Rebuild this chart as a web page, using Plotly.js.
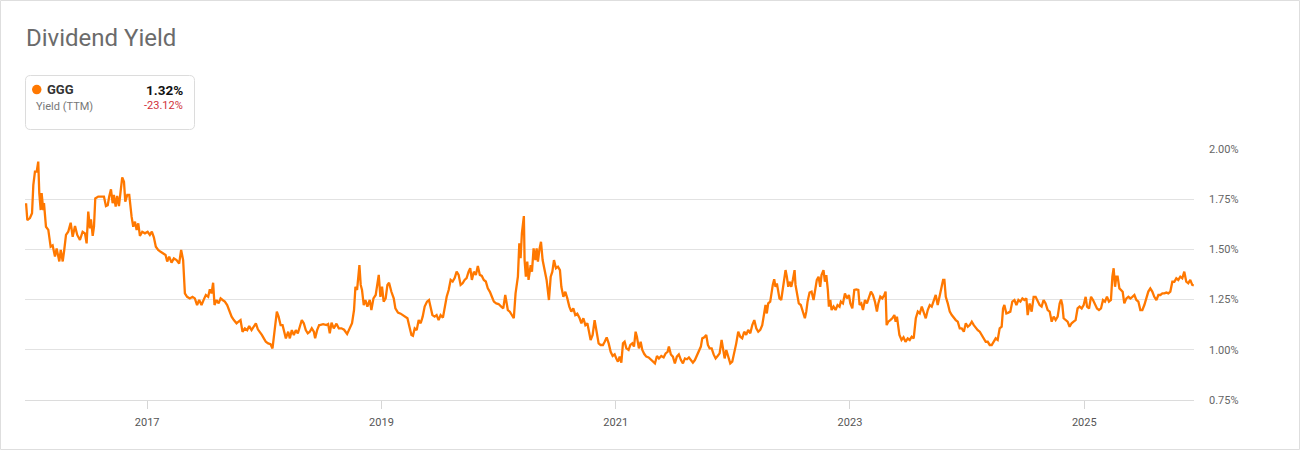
<!DOCTYPE html>
<html>
<head>
<meta charset="utf-8">
<script src="https://cdn.plot.ly/plotly-3.0.1.min.js"></script>
<style>
  html, body { margin: 0; padding: 0; background: #fff; }
  #chart { width: 1300px; height: 450px; }
</style>
</head>
<body>
<div id="chart"></div>
<script>
// ---- Data (decimal year, dividend yield in %) ----
const ticker = "GGG";
const seriesLabel = "Yield (TTM)";
const latestYield = "1.32%";
const yieldChange = "-23.12%";
const chartTitle = "Dividend Yield";

const xTickVals = [2017, 2019, 2021, 2023, 2025];
const xTickText = ["2017", "2019", "2021", "2023", "2025"];
const yTickVals = [0.75, 1.00, 1.25, 1.50, 1.75, 2.00];
const yTickText = ["0.75%", "1.00%", "1.25%", "1.50%", "1.75%", "2.00%"];

const dates = [
2015.966,2015.977,2015.999,2016.017,2016.028,2016.042,2016.057,2016.070,2016.079,2016.091,2016.099,2016.113,2016.119,2016.136,2016.156,2016.176,2016.193,2016.213,2016.227,2016.250,
2016.262,2016.279,2016.292,2016.307,2016.326,2016.347,2016.364,2016.384,2016.403,2016.426,2016.449,2016.469,2016.483,2016.497,2016.512,2016.520,2016.535,2016.546,2016.557,2016.582,
2016.611,2016.631,2016.648,2016.663,2016.676,2016.691,2016.705,2016.716,2016.731,2016.744,2016.759,2016.773,2016.787,2016.802,2016.813,2016.830,2016.847,2016.867,2016.881,2016.896,
2016.910,2016.924,2016.938,2016.958,2016.981,2017.004,2017.023,2017.040,2017.057,2017.074,2017.094,2017.115,2017.137,2017.157,2017.171,2017.188,2017.208,2017.228,2017.251,2017.273,
2017.290,2017.307,2017.322,2017.341,2017.364,2017.387,2017.407,2017.426,2017.444,2017.464,2017.484,2017.501,2017.521,2017.535,2017.550,2017.563,2017.575,2017.592,2017.610,2017.627,
2017.644,2017.663,2017.683,2017.700,2017.721,2017.740,2017.763,2017.780,2017.797,2017.814,2017.834,2017.854,2017.871,2017.891,2017.911,2017.928,2017.945,2017.962,2017.979,2017.996,
2018.013,2018.033,2018.053,2018.070,2018.081,2018.093,2018.107,2018.122,2018.139,2018.156,2018.169,2018.184,2018.204,2018.218,2018.235,2018.252,2018.269,2018.286,2018.303,2018.320,
2018.337,2018.354,2018.371,2018.388,2018.405,2018.423,2018.434,2018.451,2018.468,2018.474,2018.502,2018.531,2018.545,2018.559,2018.574,2018.593,2018.616,2018.636,2018.659,2018.681,
2018.707,2018.729,2018.749,2018.766,2018.778,2018.792,2018.800,2018.812,2018.823,2018.834,2018.849,2018.863,2018.880,2018.900,2018.914,2018.932,2018.951,2018.966,2018.977,2018.991,
2019.005,2019.019,2019.036,2019.051,2019.065,2019.085,2019.105,2019.119,2019.141,2019.164,2019.184,2019.204,2019.222,2019.239,2019.256,2019.269,2019.284,2019.301,2019.318,2019.335,
2019.352,2019.369,2019.389,2019.406,2019.420,2019.435,2019.454,2019.471,2019.488,2019.505,2019.525,2019.539,2019.557,2019.574,2019.591,2019.608,2019.625,2019.642,2019.659,2019.676,
2019.693,2019.710,2019.727,2019.744,2019.758,2019.772,2019.789,2019.806,2019.823,2019.840,2019.857,2019.874,2019.891,2019.908,2019.926,2019.943,2019.960,2019.980,2020.000,2020.023,
2020.040,2020.057,2020.068,2020.079,2020.096,2020.113,2020.130,2020.145,2020.156,2020.165,2020.177,2020.188,2020.199,2020.216,2020.222,2020.233,2020.245,2020.256,2020.274,2020.285,
2020.299,2020.314,2020.325,2020.336,2020.348,2020.362,2020.376,2020.393,2020.410,2020.430,2020.445,2020.459,2020.473,2020.490,2020.507,2020.524,2020.536,2020.553,2020.570,2020.587,
2020.604,2020.621,2020.638,2020.655,2020.672,2020.692,2020.707,2020.724,2020.741,2020.758,2020.772,2020.786,2020.803,2020.820,2020.837,2020.854,2020.871,2020.891,2020.906,2020.923,
2020.940,2020.957,2020.974,2020.991,2021.005,2021.019,2021.034,2021.048,2021.062,2021.076,2021.091,2021.110,2021.125,2021.142,2021.156,2021.170,2021.181,2021.198,2021.213,2021.227,
2021.244,2021.261,2021.281,2021.301,2021.318,2021.335,2021.352,2021.369,2021.389,2021.409,2021.426,2021.443,2021.454,2021.471,2021.488,2021.505,2021.522,2021.539,2021.557,2021.574,
2021.591,2021.608,2021.625,2021.642,2021.659,2021.676,2021.693,2021.710,2021.727,2021.739,2021.756,2021.773,2021.787,2021.802,2021.819,2021.836,2021.853,2021.870,2021.887,2021.904,
2021.915,2021.930,2021.944,2021.961,2021.978,2021.995,2022.012,2022.029,2022.046,2022.063,2022.080,2022.097,2022.114,2022.131,2022.149,2022.166,2022.183,2022.200,2022.217,2022.234,
2022.251,2022.268,2022.279,2022.290,2022.302,2022.319,2022.330,2022.341,2022.353,2022.364,2022.376,2022.387,2022.398,2022.413,2022.427,2022.439,2022.450,2022.461,2022.473,2022.484,
2022.499,2022.512,2022.527,2022.535,2022.550,2022.563,2022.580,2022.597,2022.615,2022.627,2022.638,2022.655,2022.672,2022.689,2022.706,2022.717,2022.732,2022.746,2022.757,2022.774,
2022.786,2022.798,2022.811,2022.820,2022.832,2022.843,2022.860,2022.877,2022.894,2022.911,2022.922,2022.940,2022.957,2022.974,2022.991,2023.003,2023.020,2023.037,2023.054,2023.071,
2023.082,2023.097,2023.111,2023.128,2023.145,2023.162,2023.179,2023.196,2023.213,2023.230,2023.242,2023.259,2023.276,2023.293,2023.304,2023.313,2023.327,2023.344,2023.361,2023.379,
2023.390,2023.401,2023.413,2023.422,2023.440,2023.457,2023.474,2023.493,2023.510,2023.527,2023.544,2023.562,2023.579,2023.596,2023.613,2023.630,2023.647,2023.664,2023.681,2023.698,
2023.715,2023.732,2023.749,2023.766,2023.783,2023.795,2023.806,2023.818,2023.835,2023.852,2023.869,2023.886,2023.903,2023.920,2023.937,2023.954,2023.972,2023.989,2024.006,2024.023,
2024.040,2024.057,2024.074,2024.091,2024.108,2024.125,2024.142,2024.159,2024.176,2024.193,2024.210,2024.227,2024.244,2024.261,2024.278,2024.295,2024.307,2024.318,2024.335,2024.352,
2024.369,2024.386,2024.404,2024.421,2024.438,2024.455,2024.472,2024.489,2024.506,2024.517,2024.534,2024.551,2024.568,2024.585,2024.602,2024.619,2024.636,2024.653,2024.670,2024.688,
2024.705,2024.722,2024.739,2024.756,2024.773,2024.790,2024.802,2024.813,2024.824,2024.841,2024.858,2024.875,2024.892,2024.909,2024.926,2024.943,2024.960,2024.978,2024.995,2025.012,
2025.024,2025.041,2025.058,2025.075,2025.092,2025.109,2025.126,2025.143,2025.160,2025.177,2025.194,2025.211,2025.228,2025.240,2025.251,2025.263,2025.274,2025.285,2025.300,2025.314,
2025.328,2025.342,2025.360,2025.377,2025.394,2025.411,2025.428,2025.445,2025.462,2025.479,2025.496,2025.513,2025.530,2025.547,2025.564,2025.581,2025.598,2025.616,2025.633,2025.650,
2025.667,2025.684,2025.701,2025.718,2025.735,2025.752,2025.769,2025.786,2025.803,2025.820,2025.837,2025.854,2025.871,2025.888,2025.905,2025.922,2025.935
];

const yields = [
1.730,1.646,1.656,1.680,1.820,1.887,1.887,1.937,1.780,1.696,1.780,1.696,1.730,1.613,1.597,1.513,1.520,1.464,1.505,1.440,
1.497,1.440,1.497,1.572,1.588,1.633,1.563,1.617,1.572,1.547,1.588,1.580,1.530,1.688,1.605,1.650,1.567,1.613,1.754,1.763,
1.763,1.763,1.716,1.720,1.763,1.799,1.730,1.771,1.713,1.766,1.716,1.796,1.859,1.837,1.738,1.771,1.771,1.663,1.613,1.638,
1.597,1.630,1.567,1.588,1.580,1.588,1.572,1.588,1.560,1.513,1.497,1.488,1.480,1.472,1.440,1.464,1.434,1.455,1.447,1.430,
1.497,1.447,1.281,1.264,1.256,1.264,1.256,1.223,1.248,1.223,1.251,1.273,1.264,1.301,1.281,1.334,1.223,1.248,1.231,1.256,
1.248,1.240,1.223,1.198,1.165,1.148,1.132,1.140,1.148,1.090,1.107,1.098,1.118,1.098,1.115,1.132,1.102,1.090,1.074,1.057,
1.040,1.032,1.028,1.007,1.065,1.132,1.190,1.165,1.123,1.123,1.090,1.057,1.090,1.057,1.098,1.074,1.098,1.082,1.115,1.148,
1.132,1.098,1.082,1.090,1.107,1.090,1.057,1.098,1.123,1.123,1.128,1.123,1.128,1.082,1.135,1.107,1.130,1.107,1.107,1.100,
1.079,1.107,1.132,1.198,1.314,1.298,1.364,1.422,1.323,1.298,1.223,1.248,1.215,1.248,1.198,1.256,1.273,1.323,1.373,1.264,
1.314,1.240,1.256,1.323,1.334,1.289,1.256,1.206,1.185,1.180,1.173,1.165,1.157,1.115,1.074,1.070,1.107,1.098,1.148,1.132,
1.165,1.215,1.240,1.248,1.215,1.173,1.165,1.173,1.148,1.173,1.160,1.206,1.264,1.298,1.348,1.340,1.357,1.389,1.373,1.323,
1.331,1.348,1.357,1.389,1.406,1.348,1.389,1.373,1.417,1.373,1.368,1.348,1.340,1.306,1.289,1.264,1.240,1.231,1.228,1.215,
1.206,1.273,1.231,1.198,1.190,1.173,1.157,1.281,1.323,1.364,1.530,1.456,1.580,1.666,1.447,1.364,1.439,1.348,1.422,1.389,
1.505,1.447,1.505,1.439,1.497,1.538,1.447,1.389,1.348,1.248,1.364,1.389,1.447,1.406,1.414,1.397,1.314,1.264,1.289,1.256,
1.215,1.190,1.206,1.173,1.180,1.157,1.132,1.157,1.123,1.132,1.090,1.049,1.074,1.148,1.090,1.032,1.024,1.024,1.040,1.062,
1.032,0.990,0.969,0.977,0.957,0.941,0.966,0.936,1.032,1.040,1.007,0.999,1.024,1.032,1.016,1.090,1.065,1.007,1.040,0.999,
0.979,0.966,0.962,0.949,0.941,0.932,0.969,0.957,0.969,0.962,0.982,0.990,1.016,0.977,0.966,0.932,0.966,0.977,0.949,0.932,
0.957,0.953,0.962,0.949,0.936,0.949,0.974,0.999,1.016,1.057,1.062,1.074,1.024,1.007,1.007,0.977,0.957,0.969,0.982,1.049,
0.999,0.957,0.999,0.966,0.932,0.941,0.982,1.032,1.090,1.065,1.057,1.090,1.074,1.099,1.082,1.123,1.148,1.107,1.090,1.099,
1.123,1.173,1.223,1.181,1.231,1.240,1.298,1.323,1.351,1.314,1.331,1.281,1.256,1.248,1.298,1.356,1.397,1.364,1.314,1.339,
1.314,1.348,1.397,1.323,1.281,1.231,1.223,1.190,1.157,1.190,1.240,1.285,1.290,1.248,1.323,1.348,1.364,1.314,1.372,1.397,
1.339,1.372,1.298,1.215,1.248,1.198,1.215,1.198,1.223,1.215,1.240,1.231,1.281,1.256,1.273,1.231,1.206,1.298,1.301,1.298,
1.223,1.231,1.198,1.248,1.231,1.256,1.290,1.273,1.240,1.190,1.231,1.265,1.256,1.273,1.290,1.123,1.140,1.148,1.157,1.173,
1.140,1.165,1.115,1.074,1.049,1.062,1.040,1.057,1.049,1.065,1.057,1.157,1.190,1.181,1.215,1.190,1.157,1.198,1.223,1.215,
1.240,1.273,1.223,1.273,1.314,1.348,1.348,1.264,1.231,1.190,1.173,1.157,1.148,1.140,1.107,1.107,1.090,1.132,1.115,1.123,
1.140,1.123,1.107,1.098,1.090,1.074,1.062,1.040,1.040,1.024,1.024,1.040,1.057,1.049,1.107,1.115,1.206,1.223,1.181,1.185,
1.190,1.240,1.248,1.223,1.248,1.240,1.256,1.248,1.256,1.173,1.231,1.190,1.264,1.264,1.240,1.223,1.215,1.248,1.231,1.198,
1.190,1.140,1.165,1.148,1.165,1.231,1.250,1.223,1.157,1.148,1.140,1.115,1.132,1.140,1.148,1.206,1.215,1.206,1.223,1.264,
1.215,1.206,1.264,1.248,1.223,1.206,1.198,1.206,1.248,1.240,1.264,1.240,1.248,1.364,1.406,1.314,1.364,1.364,1.306,1.298,
1.289,1.231,1.256,1.264,1.256,1.264,1.273,1.248,1.240,1.198,1.198,1.223,1.256,1.290,1.306,1.290,1.264,1.248,1.273,1.273,
1.281,1.281,1.285,1.281,1.290,1.339,1.339,1.356,1.348,1.364,1.356,1.389,1.339,1.331,1.348,1.323,1.320
];

// ---- Geometry helpers (figure pixels -> paper coords) ----
const W = 1300, H = 450;
const M = { l: 25, r: 106, t: 149, b: 50 };
const PW = W - M.l - M.r, PH = H - M.t - M.b;
const px = x => (x - M.l) / PW;
const py = y => (H - M.b - y) / PH;

function roundRect(x0, y0, x1, y1, r) {
  const X0 = px(x0), X1 = px(x1), Y0 = py(y0), Y1 = py(y1);
  const rx = r / PW, ry = r / PH;
  return `M ${X0 + rx},${Y0} L ${X1 - rx},${Y0} Q ${X1},${Y0} ${X1},${Y0 - ry} ` +
         `L ${X1},${Y1 + ry} Q ${X1},${Y1} ${X1 - rx},${Y1} L ${X0 + rx},${Y1} ` +
         `Q ${X0},${Y1} ${X0},${Y1 + ry} L ${X0},${Y0 - ry} Q ${X0},${Y0} ${X0 + rx},${Y0} Z`;
}

const orange = '#ff7800';
const FONT = 'Roboto, "Liberation Sans", Arial, sans-serif';

const trace = {
  x: dates, y: yields, type: 'scatter', mode: 'lines',
  line: { color: orange, width: 2.3 },
  hoverinfo: 'skip', showlegend: false
};

const layout = {
  width: W, height: H,
  margin: M,
  paper_bgcolor: '#ffffff', plot_bgcolor: '#ffffff',
  font: { family: FONT, color: '#666' },
  showlegend: false,
  xaxis: {
    range: [2015.957, 2025.937],
    tickmode: 'array', tickvals: xTickVals, ticktext: xTickText,
    showgrid: false, zeroline: false,
    showline: true, linecolor: '#dcdcdc', linewidth: 1,
    ticks: 'outside', ticklen: 8, tickcolor: '#d6d6d6', tickwidth: 1,
    ticklabelstandoff: 4,
    tickfont: { size: 11, color: '#555' },
    fixedrange: true
  },
  yaxis: {
    side: 'right',
    range: [0.75, 2.0],
    tickmode: 'array', tickvals: yTickVals, ticktext: yTickText,
    showgrid: true, gridcolor: '#e2e2e2', gridwidth: 1,
    zeroline: false, showline: false, ticks: '',
    ticklabelstandoff: 14,
    tickfont: { size: 11, color: '#666' },
    fixedrange: true
  },
  shapes: [
    { type: 'rect', xref: 'paper', yref: 'paper',
      x0: px(0.5), x1: px(1299.5), y0: py(449.5), y1: py(0.5),
      line: { color: '#dedede', width: 1 }, fillcolor: 'rgba(0,0,0,0)' },
    { type: 'path', xref: 'paper', yref: 'paper',
      path: roundRect(25.5, 75.5, 194.5, 129.5, 5),
      line: { color: '#dcdcdc', width: 1 }, fillcolor: '#ffffff' },
    { type: 'circle', xref: 'paper', yref: 'paper',
      x0: px(32), x1: px(41.5), y0: py(94.3), y1: py(84.8),
      line: { width: 0 }, fillcolor: orange }
  ],
  annotations: [
    { text: chartTitle, xref: 'paper', yref: 'paper', x: px(24), y: py(38),
      xanchor: 'left', yanchor: 'middle', showarrow: false,
      font: { size: 24, color: '#6b6b6b', family: FONT } },
    { text: '<b>' + ticker + '</b>', xref: 'paper', yref: 'paper', x: px(45), y: py(89.5),
      xanchor: 'left', yanchor: 'middle', showarrow: false,
      font: { size: 13, color: '#333', family: FONT } },
    { text: '<b>' + latestYield + '</b>', xref: 'paper', yref: 'paper', x: px(185), y: py(89.5),
      xanchor: 'right', yanchor: 'middle', showarrow: false,
      font: { size: 13.5, color: '#111', family: FONT } },
    { text: seriesLabel, xref: 'paper', yref: 'paper', x: px(33.5), y: py(107),
      xanchor: 'left', yanchor: 'middle', showarrow: false,
      font: { size: 11, color: '#777', family: FONT } },
    { text: yieldChange, xref: 'paper', yref: 'paper', x: px(185), y: py(106),
      xanchor: 'right', yanchor: 'middle', showarrow: false,
      font: { size: 11, color: '#d0303a', family: FONT } }
  ]
};

Plotly.newPlot('chart', [trace], layout, { displayModeBar: false, staticPlot: true });
</script>
</body>
</html>
